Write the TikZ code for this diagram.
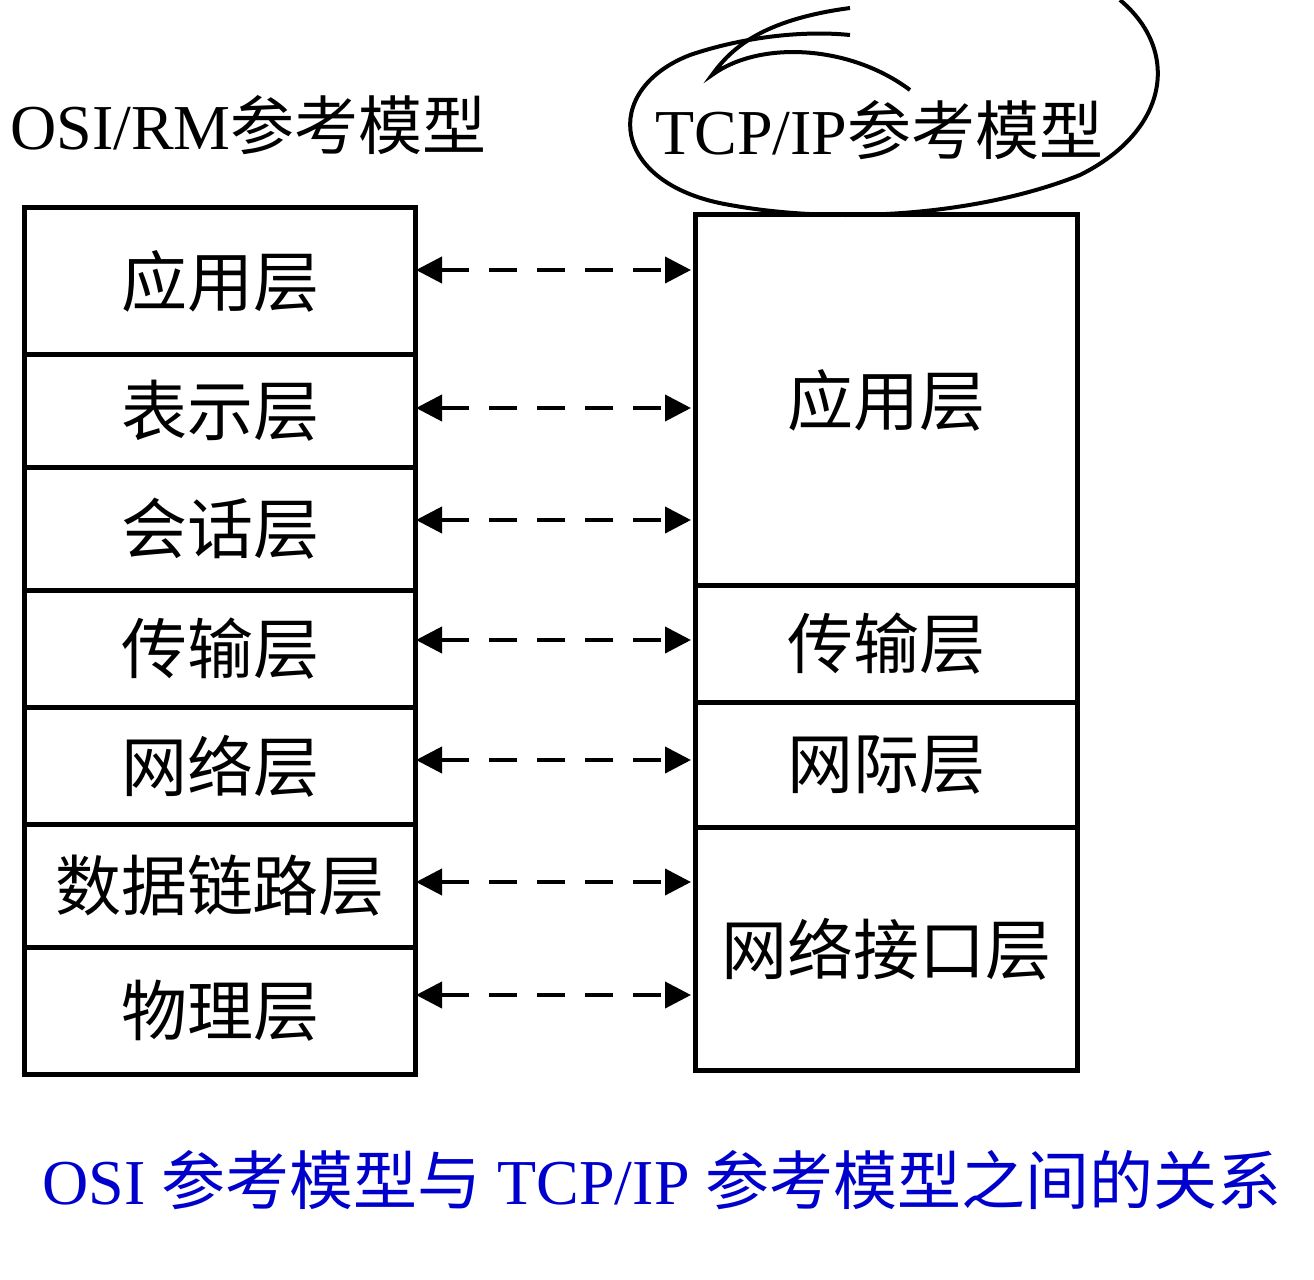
\documentclass[tikz,border=0pt]{standalone}
\usepackage{fontspec}
\setmainfont{Liberation Serif}
\newfontfamily\cjk{Noto Sans CJK SC}
\usetikzlibrary{arrows.meta}
\begin{document}
\begin{tikzpicture}[x=0.5pt,y=-0.5pt,
  lay/.style={draw,line width=2.5pt,minimum width=195.5pt,anchor=north west,inner sep=0pt,font=\cjk\fontsize{33}{36}\selectfont},
  conn/.style={line width=2pt,dash pattern=on 14pt off 10pt,{Triangle[length=13pt,width=13pt]}-{Triangle[length=13pt,width=13pt]}}]
\useasboundingbox (0,0) rectangle (1314,1280);
\fill[white] (0,0) rectangle (1314,1280);
\node[font=\fontsize{32}{34}\selectfont,anchor=west,inner sep=0pt] (t1) at (10,125) {OSI/RM{\cjk 参考模型}};
\node[font=\fontsize{32}{34}\selectfont,anchor=west,inner sep=0pt] (t2) at (655,130) {TCP/IP{\cjk 参考模型}};
\foreach \n/\a/\b/\t in {l1/205/352/应用层,l2/352/465/表示层,l3/465/588/会话层,l4/588/705/传输层,l5/705/822/网络层,l6/822/945/数据链路层,l7/945/1072/物理层}{
  \node[lay,minimum height={(\b-\a)*0.5pt}] (\n) at (22,\a) {\t};
}
\foreach \n/\a/\b/\t in {r1/212/583/应用层,r2/583/700/传输层,r3/700/825/网际层,r4/825/1068/网络接口层}{
  \node[lay,minimum width=191pt,minimum height={(\b-\a)*0.5pt}] (\n) at (693,\a) {\t};
}
\foreach \y in {270,408,520,640,760,882,995}{
  \coordinate (a\y) at (416,\y); \coordinate (b\y) at (691,\y);
  \draw[conn] (a\y) -- (b\y);
}
\draw[line width=2pt] (850,8) .. controls (760,20) and (730,50) .. (712,75)
  .. controls (760,40) and (850,45) .. (910,90);
\draw[line width=2pt] (1120,0) .. controls (1180,50) and (1170,130) .. (1080,175)
  .. controls (980,215) and (840,225) .. (730,205)
  .. controls (610,185) and (600,90) .. (690,55)
  .. controls (740,38) and (800,30) .. (850,35);
\node[text=blue!80!black,font=\fontsize{32}{34}\selectfont,inner sep=0pt] (cap) at (662,1180) {OSI {\cjk 参考模型与} TCP/IP {\cjk 参考模型之间的关系}};
\end{tikzpicture}
\end{document}
